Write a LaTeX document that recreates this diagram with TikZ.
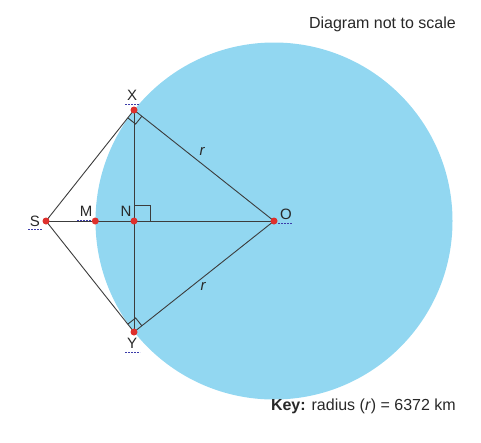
\documentclass[tikz,border=0pt]{standalone}
\usepackage{fontspec}
\setmainfont{Liberation Sans}
\usetikzlibrary{calc}
\definecolor{skyblue}{RGB}{146,215,241}
\definecolor{linegray}{RGB}{60,60,60}
\definecolor{ptred}{RGB}{222,48,44}
\definecolor{txtgray}{RGB}{40,40,40}
\definecolor{ulblue}{RGB}{60,60,170}
\begin{document}
\begin{tikzpicture}[x=1pt,y=-1pt,
  line/.style={draw=linegray, line width=0.9pt},
  dot/.style={circle, fill=ptred, inner sep=0pt, minimum size=7pt},
  lbl/.style={font=\fontsize{15}{15}\selectfont, text=txtgray, inner sep=0pt},
  ul/.style={draw=ulblue, dash pattern=on 2pt off 1pt, line width=0.8pt},
  big/.style={font=\fontsize{16}{16}\selectfont, text=txtgray, inner sep=0pt}]
\useasboundingbox (0,0) rectangle (481,442);
% earth
\fill[skyblue] (274,221) circle (178.5pt);
% points
\coordinate (S) at (46,221);
\coordinate (M) at (95.3,221);
\coordinate (N) at (134,221);
\coordinate (O) at (274,221);
\coordinate (X) at (134,110);
\coordinate (Y) at (134,332);
% lines
\draw[line] (S) -- (X) -- (O) -- (Y) -- cycle;
\draw[line] (S) -- (O);
\draw[line] (X) -- (Y);
% right angle marks
\coordinate (xa) at ($(X)!10pt!(O)$);
\coordinate (xb) at ($(X)!10pt!(S)$);
\draw[line] (xa) -- ($(xa)+(xb)-(X)$) -- (xb);
\coordinate (ya) at ($(Y)!10pt!(O)$);
\coordinate (yb) at ($(Y)!10pt!(S)$);
\draw[line] (ya) -- ($(ya)+(yb)-(Y)$) -- (yb);
\draw[line] ($(N)+(16,0)$) -- ($(N)+(16,-16)$) -- ($(N)+(0,-16)$);
% underlines
\draw[ul] (28,229) -- (43,229);
\draw[ul] (77,220) -- (93,220);
\draw[ul] (125,104) -- (139,104);
\draw[ul] (125,352) -- (140,352);
\draw[ul] (278,223) -- (293,223);
% dots
\node[dot] (dS) at (S) {};
\node[dot] (dM) at (M) {};
\node[dot] (dN) at (N) {};
\node[dot] (dO) at (O) {};
\node[dot] (dX) at (X) {};
\node[dot] (dY) at (Y) {};
% labels
\node[lbl] (lS) at (35,221) {S};
\node[lbl] (lM) at (86,211) {M};
\node[lbl] (lN) at (126,211) {N};
\node[lbl] (lX) at (132,95) {X};
\node[lbl] (lY) at (132,343) {Y};
\node[lbl] (lO) at (286,214) {O};
\node[lbl] (r1) at (202,151) {\itshape r};
\node[lbl] (r2) at (203,286) {\itshape r};
% texts
\node[big, anchor=east] (title) at (456,24) {Diagram not to scale};
\node[big, anchor=east] (key) at (456,406) {\textbf{Key:} radius (\textit{r}) = 6372 km};
\end{tikzpicture}
\end{document}
